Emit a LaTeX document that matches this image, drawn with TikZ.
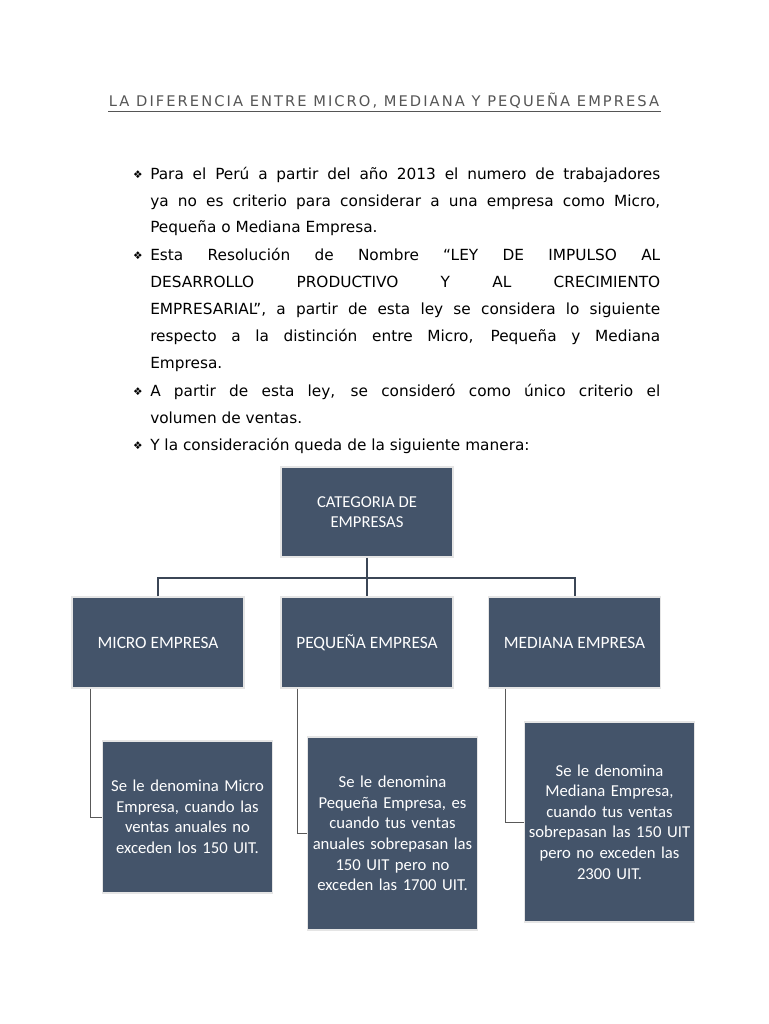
\documentclass[tikz,border=0pt]{standalone}
\usepackage{fontspec}
\setmainfont{DejaVu Sans}
\newfontfamily\boxfont{Carlito}
\newfontfamily\symfont{DejaVu Sans}
\usepackage{xcolor}
\usetikzlibrary{positioning}
\definecolor{boxblue}{HTML}{44546A}
\definecolor{titlegray}{HTML}{555555}
\definecolor{treegray}{HTML}{3B4656}
\newcommand{\jline}[1]{\makebox[382.5pt][s]{#1}}

\begin{document}
\begin{tikzpicture}[x=0.75pt,y=-0.75pt,
  box/.style={fill=boxblue,draw=gray!20,line width=0.8pt,text=white,font=\boxfont,align=center,inner sep=0pt},
  headbox/.style={box,minimum width=129pt,minimum height=67.5pt,font=\boxfont\fontsize{12.5}{15}\selectfont},
  catbox/.style={box,minimum width=129pt,minimum height=68.25pt,font=\boxfont\fontsize{13}{15}\selectfont},
  infobox/.style={box,text width=128pt,font=\boxfont\fontsize{12.5}{15.4}\selectfont},
  txt/.style={anchor=base west,inner sep=0pt,font=\fontsize{11.5}{14}\selectfont},
  bul/.style={anchor=base,inner sep=0pt,font=\symfont\fontsize{8}{10}\selectfont},
  tree/.style={draw=treegray,line width=1.5pt},
  link/.style={draw=gray!70!black,line width=0.7pt}]
\useasboundingbox (0,0) rectangle (768,1024);

% title
\node[anchor=base,inner sep=0pt,text=titlegray,font=\fontsize{11}{13}\selectfont\addfontfeature{LetterSpace=14}] (title) at (384,107) {LA DIFERENCIA ENTRE MICRO, MEDIANA Y PEQUEÑA EMPRESA};
\draw[titlegray,line width=0.6pt] (108,111)--(661,111);

% bullets
\node[bul] (b1) at (138,178) {❖};
\node[bul] (b2) at (138,259) {❖};
\node[bul] (b3) at (138,395) {❖};
\node[bul] (b4) at (138,449) {❖};

% text lines
\node[txt] (l1) at (150,179) {\jline{Para el Perú a partir del año 2013 el numero de trabajadores}};
\node[txt] (l2) at (150,206) {\jline{ya no es criterio para considerar a una empresa como Micro,}};
\node[txt] (l3) at (150,232) {Pequeña o Mediana Empresa.};
\node[txt] (l4) at (150,260) {\jline{Esta Resolución de Nombre “LEY DE IMPULSO AL}};
\node[txt] (l5) at (150,287) {\jline{DESARROLLO PRODUCTIVO Y AL CRECIMIENTO}};
\node[txt] (l6) at (150,314) {\jline{EMPRESARIAL”, a partir de esta ley se considera lo siguiente}};
\node[txt] (l7) at (150,341) {\jline{respecto a la distinción entre Micro, Pequeña y Mediana}};
\node[txt] (l8) at (150,368) {Empresa.};
\node[txt] (l9) at (150,396) {\jline{A partir de esta ley, se consideró como único criterio el}};
\node[txt] (l10) at (150,423) {volumen de ventas.};
\node[txt] (l11) at (150,450) {Y la consideración queda de la siguiente manera:};

% chart
\node[headbox] (cat) at (367,512) {CATEGORIA DE\\EMPRESAS};
\node[catbox] (micro) at (158,642.5) {MICRO EMPRESA};
\node[catbox] (pequena) at (367,642.5) {PEQUEÑA EMPRESA};
\node[catbox] (mediana) at (574.5,642.5) {MEDIANA EMPRESA};
\coordinate (bar) at (367,578);
\draw[tree] (cat.south)--(pequena.north);
\draw[tree] (micro.north) |- (bar) -| (mediana.north);

\node[infobox,minimum height=114pt] (microtxt) at (187.5,817) {Se le denomina Micro\\Empresa, cuando las\\ventas anuales no\\exceden los 150 UIT.};
\node[infobox,minimum height=144.75pt] (pequenatxt) at (392.5,833.5) {Se le denomina\\Pequeña Empresa, es\\cuando tus ventas\\anuales sobrepasan las\\150 UIT pero no\\exceden las 1700 UIT.};
\node[infobox,minimum height=150pt] (medianatxt) at (609.5,822) {Se le denomina\\Mediana Empresa,\\cuando tus ventas\\sobrepasan las 150 UIT\\pero no exceden las\\2300 UIT.};

\draw[link] ([xshift=14.25pt]micro.south west) |- (microtxt.west);
\draw[link] ([xshift=12.75pt]pequena.south west) |- (pequenatxt.west);
\draw[link] ([xshift=12.75pt]mediana.south west) |- (medianatxt.west);
\end{tikzpicture}
\end{document}
